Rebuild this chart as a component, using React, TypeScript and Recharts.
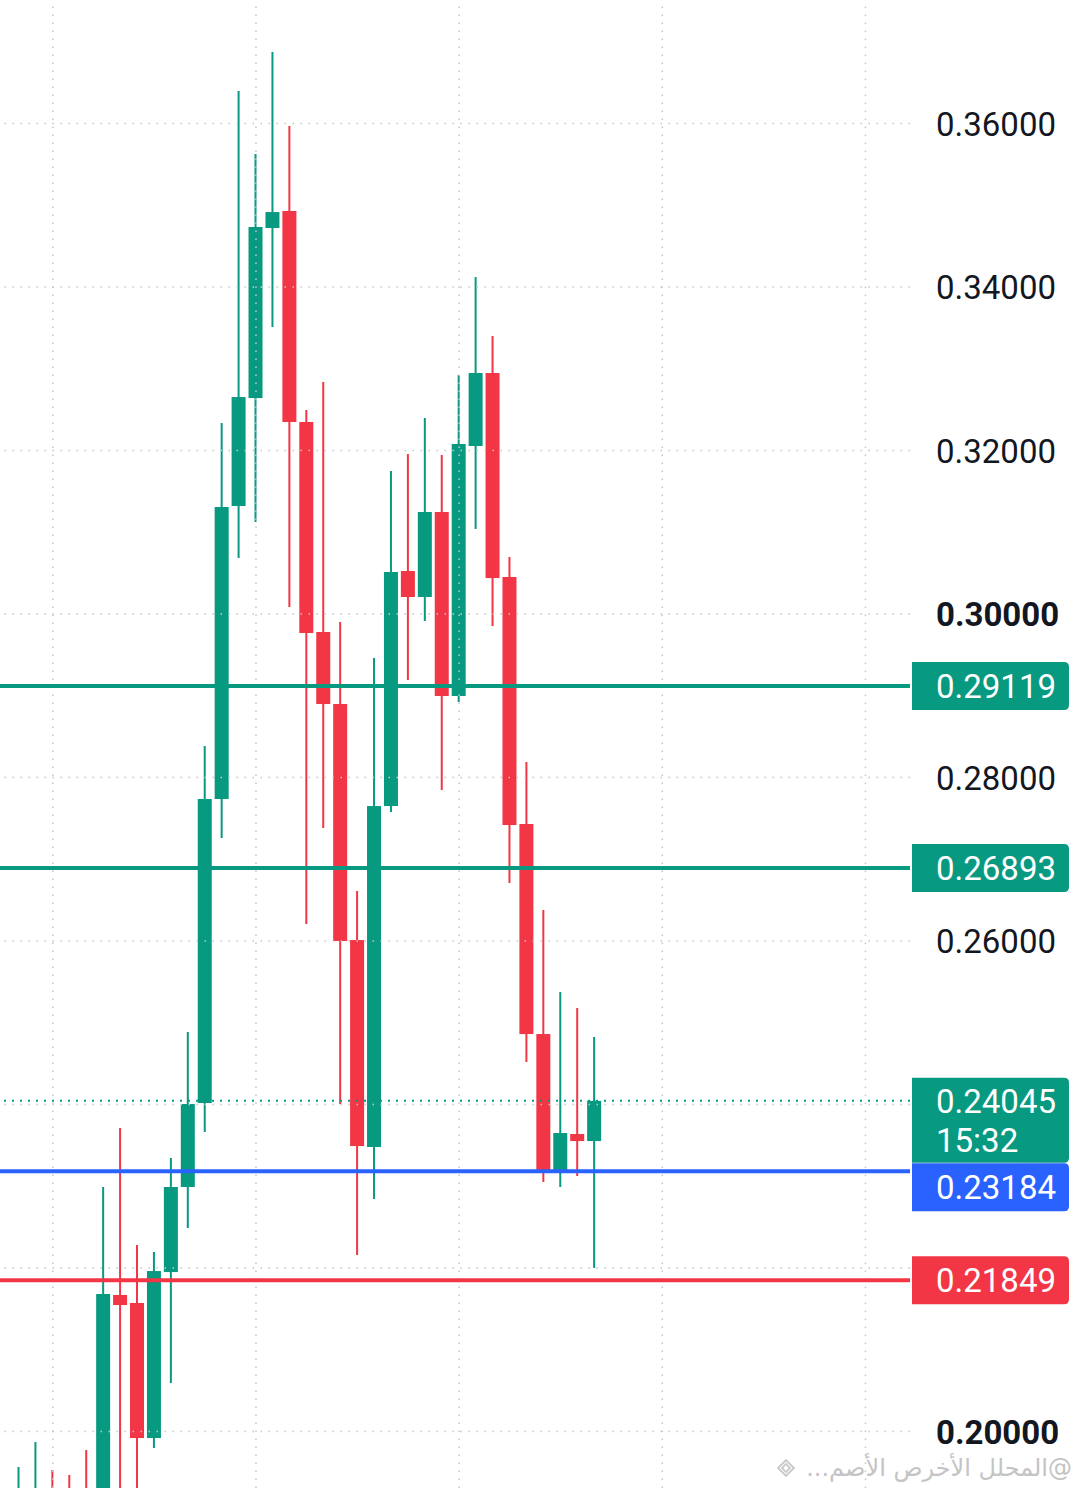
import React from 'react';
import { ComposedChart, Bar, XAxis, YAxis, ReferenceLine } from 'recharts';

const GREEN = '#089981';
const RED = '#f23645';
const BLUE = '#2962ff';
const GRID = '#c4c7ce';
const TEXT = '#131722';

// candle index (time slot)
const slots = [0, 1, 2, 3, 4, 5, 6, 7, 8, 9, 10, 11, 12, 13, 14, 15, 16, 17, 18, 19, 20, 21, 22, 23, 24, 25, 26, 27, 28, 29, 30, 31, 32, 33, 34];
const opens = [0.188, 0.189, 0.1925, 0.191, 0.192, 0.1885, 0.2167, 0.21572, 0.1992, 0.21951, 0.22991, 0.24018, 0.27737, 0.31321, 0.32642, 0.34722, 0.3493, 0.32349, 0.2978, 0.28899, 0.26012, 0.2348, 0.27651, 0.30526, 0.30208, 0.31248, 0.28997, 0.32055, 0.32948, 0.30453, 0.27431, 0.24862, 0.23199, 0.23639, 0.23553];
const highs = [0.19566, 0.19872, 0.19529, 0.19468, 0.19774, 0.22991, 0.23713, 0.22281, 0.22196, 0.23346, 0.24887, 0.28385, 0.32336, 0.36398, 0.35627, 0.36875, 0.35969, 0.32495, 0.32838, 0.29902, 0.26612, 0.29462, 0.31749, 0.31957, 0.32398, 0.31945, 0.32924, 0.34122, 0.33401, 0.30697, 0.2819, 0.26379, 0.25376, 0.2518, 0.24826];
const lows = [0.186, 0.187, 0.188, 0.187, 0.186, 0.187, 0.1905, 0.1915, 0.19798, 0.20593, 0.22489, 0.23664, 0.2726, 0.30685, 0.31125, 0.33511, 0.30086, 0.26208, 0.27382, 0.24006, 0.22159, 0.22844, 0.27578, 0.29193, 0.29914, 0.27847, 0.28924, 0.3104, 0.29853, 0.26709, 0.2452, 0.23052, 0.22991, 0.23125, 0.22];
const closes = [0.192, 0.1925, 0.19, 0.1895, 0.1885, 0.21682, 0.21547, 0.1992, 0.21963, 0.22991, 0.24006, 0.27737, 0.31309, 0.32654, 0.34734, 0.34917, 0.32349, 0.29768, 0.28899, 0.26, 0.23492, 0.27651, 0.30514, 0.30208, 0.31248, 0.28997, 0.3208, 0.32948, 0.3044, 0.27419, 0.24862, 0.23199, 0.23651, 0.23553, 0.24045];

const priceTicks = [0.2, 0.26, 0.28, 0.3, 0.32, 0.34, 0.36];
const boldTicks = [0.2, 0.3];
const gridPrices = [0.2, 0.22, 0.24, 0.26, 0.28, 0.3, 0.32, 0.34, 0.36];
const gridSlots = [2, 14, 26, 38, 50];

const levelGreen1 = 0.29119;
const levelGreen2 = 0.26893;
const levelBlue = 0.23184;
const levelRed = 0.21849;
const lastPrice = 0.24045;
const countdown = '15:32';
const watermark = '@المحلل الأخرص الأصم...';

const data = slots.map((i, k) => ({ i, open: opens[k], high: highs[k], low: lows[k], close: closes[k] }));

const Candle = (props: any) => {
  const { x, y, width, height, payload } = props;
  if (!payload) return null;
  const { open, close, high, low } = payload;
  const top = Math.min(y, y + height);
  const bottom = Math.max(y, y + height);
  const ppu = (bottom - top) / (high - low);
  const yO = bottom - (open - low) * ppu;
  const yC = bottom - (close - low) * ppu;
  const color = close >= open ? GREEN : RED;
  const cx = x + width / 2;
  const bt = Math.min(yO, yC);
  const bh = Math.max(Math.abs(yO - yC), 2);
  return (
    <g>
      <line x1={cx} x2={cx} y1={top} y2={bottom} stroke={color} strokeWidth={2} />
      <rect x={x} y={bt} width={width} height={bh} fill={color} />
    </g>
  );
};

const badgePath = (x: number, y: number, w: number, h: number, r: number) =>
  `M${x},${y} H${x + w - r} Q${x + w},${y} ${x + w},${y + r} V${y + h - r} Q${x + w},${y + h} ${x + w - r},${y + h} H${x} Z`;

const Badge = (props: any) => {
  const { viewBox, text, sub, fill, shift = 0 } = props;
  if (!viewBox) return null;
  const lx = viewBox.x + viewBox.width + 2;
  const cy = viewBox.y + shift;
  if (sub) {
    const top = cy - 23;
    return (
      <g>
        <path d={badgePath(lx, top, 157, 85, 5)} fill={fill} />
        <text x={lx + 24} y={top + 35} fontSize={33} fontFamily="Roboto" fill="#ffffff">{text}</text>
        <text x={lx + 24} y={top + 74} fontSize={33} fontFamily="Roboto" fill="#ffffff">{sub}</text>
      </g>
    );
  }
  return (
    <g>
      <path d={badgePath(lx, cy - 24, 157, 48, 5)} fill={fill} />
      <text x={lx + 24} y={cy + 12} fontSize={33} fontFamily="Roboto" fill="#ffffff">{text}</text>
    </g>
  );
};

const PriceTick = (props: any) => {
  const { x, y, payload } = props;
  const v = payload.value;
  const bold = boldTicks.some((b) => Math.abs(b - v) < 1e-9);
  return (
    <text x={x + 26} y={y + 12} fontSize={33} fontFamily="Roboto" fontWeight={bold ? 700 : 400} fill={TEXT} textAnchor="start">
      {v.toFixed(5)}
    </text>
  );
};

export default function App() {
  return (
    <div style={{ position: 'absolute', left: 0, top: 0, width: 1080, height: 1488, background: '#ffffff', overflow: 'hidden' }}>
      <ComposedChart width={1080} height={1488} data={data} margin={{ top: 0, right: 0, bottom: 0, left: 0 }}>
        <XAxis type="number" dataKey="i" domain={[-1.12, 52.63]} hide allowDataOverflow />
        <YAxis
          orientation="right"
          width={170}
          domain={[0.19309, 0.37511]}
          ticks={priceTicks}
          interval={0}
          allowDataOverflow
          axisLine={false}
          tickLine={false}
          tickSize={0}
          tickMargin={0}
          tick={<PriceTick />}
        />
        {gridPrices.map((v) => (
          <ReferenceLine key={'h' + v} y={v} stroke={GRID} strokeWidth={1.5} strokeDasharray="1.5 6.5" ifOverflow="visible" />
        ))}
        {gridSlots.map((s) => (
          <ReferenceLine key={'v' + s} x={s} stroke={GRID} strokeWidth={1.5} strokeDasharray="1.5 6.5" ifOverflow="visible" />
        ))}
        <Bar dataKey={(d: any) => [d.low, d.high]} barSize={14} shape={(p: any) => <Candle {...p} />} isAnimationActive={false} />
        <ReferenceLine y={lastPrice} stroke={GREEN} strokeWidth={2} strokeDasharray="2 6" ifOverflow="visible"
          label={<Badge text={lastPrice.toFixed(5)} sub={countdown} fill={GREEN} />} />
        <ReferenceLine y={levelGreen1} stroke={GREEN} strokeWidth={4} ifOverflow="visible"
          label={<Badge text={levelGreen1.toFixed(5)} fill={GREEN} />} />
        <ReferenceLine y={levelGreen2} stroke={GREEN} strokeWidth={4} ifOverflow="visible"
          label={<Badge text={levelGreen2.toFixed(5)} fill={GREEN} />} />
        <ReferenceLine y={levelBlue} stroke={BLUE} strokeWidth={4} ifOverflow="visible"
          label={<Badge text={levelBlue.toFixed(5)} fill={BLUE} shift={16} />} />
        <ReferenceLine y={levelRed} stroke={RED} strokeWidth={4} ifOverflow="visible"
          label={<Badge text={levelRed.toFixed(5)} fill={RED} />} />
      </ComposedChart>
      <div style={{ position: 'absolute', top: 1455, right: 8, display: 'flex', alignItems: 'center', gap: 6, height: 26 }}>
        <svg width={28} height={26} viewBox="0 0 30 28">
          <g fill="none" stroke="#c9c9c9" strokeWidth={2}>
            <rect x={9} y={8} width={12} height={12} transform="rotate(45 15 14)" />
            <rect x={12} y={11} width={6} height={6} transform="rotate(45 15 14)" />
          </g>
        </svg>
        <div dir="rtl" style={{ fontFamily: '"DejaVu Sans", "Noto Sans", sans-serif', fontSize: 24, lineHeight: '26px', color: '#c4c4c4', whiteSpace: 'nowrap' }}>
          {watermark}
        </div>
      </div>
    </div>
  );
}
